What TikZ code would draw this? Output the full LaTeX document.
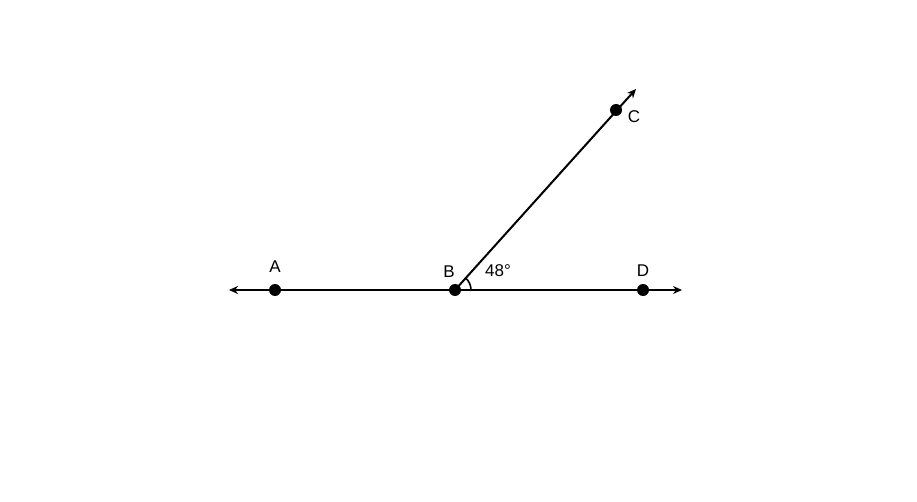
\documentclass[tikz,border=0pt]{standalone}
\usepackage{fontspec}
\setmainfont{Liberation Sans}
\usetikzlibrary{arrows.meta,calc}
\begin{document}
\begin{tikzpicture}[x=1pt,y=-1pt,
  ptdot/.style={circle,fill=black,inner sep=0pt,minimum size=12pt},
  ln/.style={line width=2pt},
  tip/.style={-{Stealth[length=9pt,width=8pt]}},
  lbl/.style={font=\fontsize{17}{19}\selectfont,inner sep=0pt}]
\useasboundingbox (0,0) rectangle (917,502);
\coordinate (L) at (229,290);
\coordinate (R) at (682,290);
\coordinate (E) at (636,89);
\node[ptdot] (A) at (275,290) {};
\node[ptdot] (B) at (455,290) {};
\node[ptdot] (D) at (643,290) {};
\node[ptdot] (C) at (616,110) {};
\draw[ln,tip] (B.center) -- (L);
\draw[ln,tip] (B.center) -- (R);
\draw[ln,tip] (B.center) -- (E);
\draw[line width=1.6pt] ($(B.center)+(16,0)$) arc[start angle=0,end angle=-48.5,radius=16];
\node[lbl] (tA) at (275,267) {A};
\node[lbl] (tB) at (449,272) {B};
\node[lbl] (tD) at (643,271) {D};
\node[lbl] (tC) at (634,117) {C};
\node[lbl] (tang) at (498,271) {48°};
\end{tikzpicture}
\end{document}
